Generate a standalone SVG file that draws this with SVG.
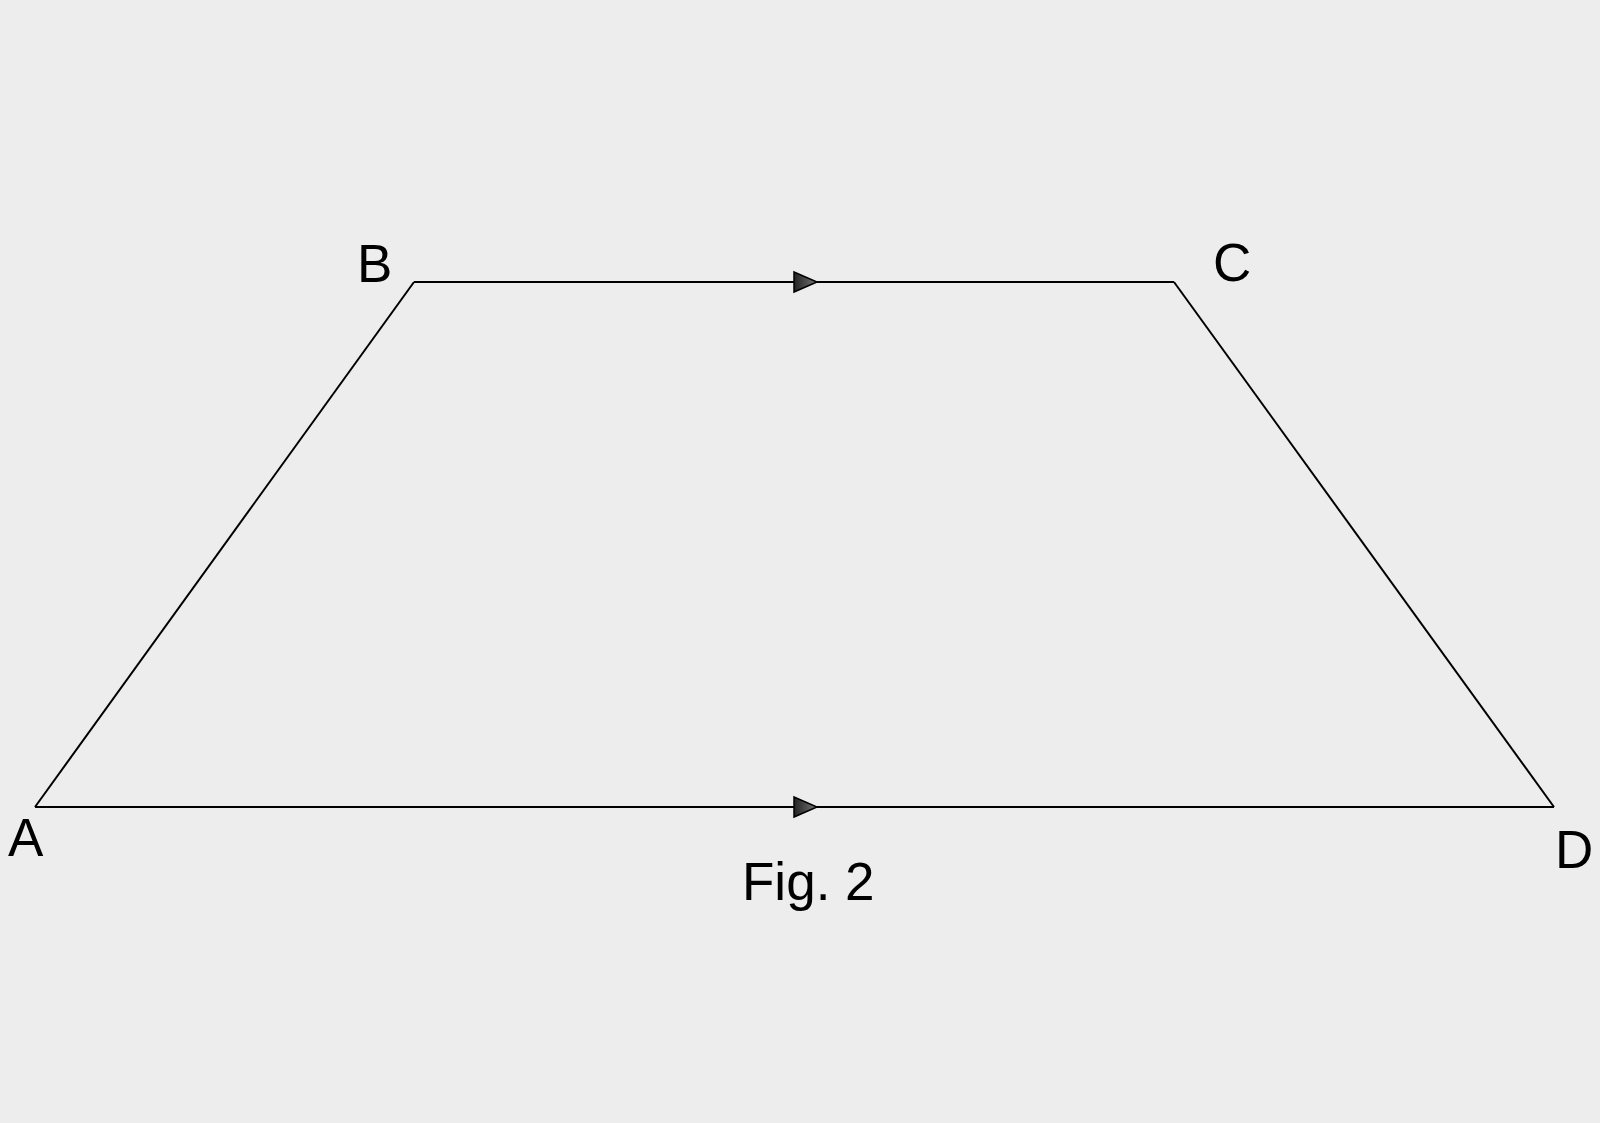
<svg xmlns="http://www.w3.org/2000/svg" width="1600" height="1123" viewBox="0 0 1600 1123">
<defs>
<linearGradient id="ag" x1="0" y1="0" x2="1" y2="0">
<stop offset="0" stop-color="#222"/>
<stop offset="1" stop-color="#777"/>
</linearGradient>
<style>
.lbl{font-family:"Liberation Sans",Arial,sans-serif;font-size:53px;fill:#000}
.edge{stroke:#000;stroke-width:2;fill:none}
.arr{fill:url(#ag);stroke:#000;stroke-width:1.5;stroke-linejoin:miter}
</style>
</defs>
<rect width="1600" height="1123" fill="#ededed"/>
<g id="connectors">
<line class="edge" x1="35" y1="807" x2="414" y2="282"/>
<line class="edge" x1="414" y1="282" x2="1174" y2="282"/>
<line class="edge" x1="1174" y1="282" x2="1554" y2="807"/>
<line class="edge" x1="35" y1="807" x2="1554" y2="807"/>
<polygon class="arr" points="794,272 817,282 794,292"/>
<polygon class="arr" points="794,797 817,807 794,817"/>
</g>
<g id="node-A"><text class="lbl" x="8" y="856">A</text></g>
<g id="node-B"><text class="lbl" x="357" y="282">B</text></g>
<g id="node-C"><text class="lbl" x="1213" y="281">C</text></g>
<g id="node-D"><text class="lbl" x="1555" y="868">D</text></g>
<g id="caption"><text class="lbl" x="742" y="900" style="font-size:53px">Fig. 2</text></g>
</svg>
